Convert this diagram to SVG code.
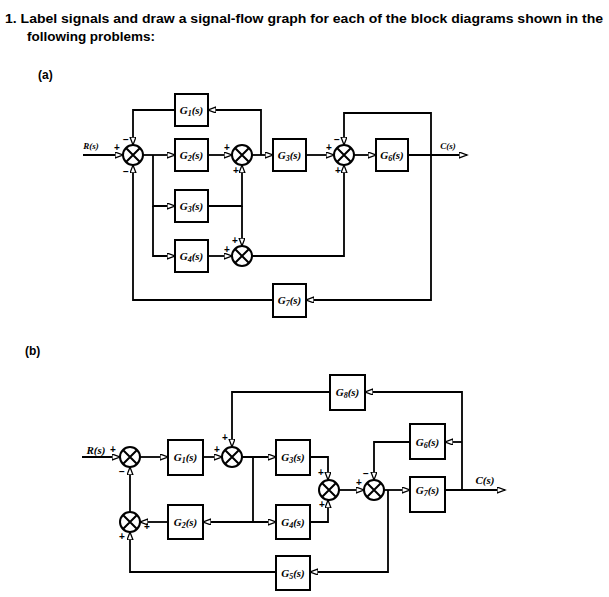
<svg xmlns="http://www.w3.org/2000/svg" width="609" height="597" viewBox="0 0 609 597">
<defs>
<marker id="ar" markerUnits="userSpaceOnUse" markerWidth="10" markerHeight="8" refX="8" refY="3" orient="auto"><path d="M0,0 L8,3 L0,6 z" fill="#fff" stroke="#000" stroke-width="1.3"/></marker>
<g id="sj"><circle r="10" fill="#fff" stroke="#000" stroke-width="2"/><path d="M-7,-7 L7,7 M7,-7 L-7,7" stroke="#000" stroke-width="2"/></g>
</defs>
<style>
.t{font-family:"Liberation Sans",Arial,sans-serif;font-weight:bold;font-size:12px}
.c line,.c path{stroke:#000;stroke-width:1.8;fill:none}
.a{marker-end:url(#ar)}
.b rect{fill:#fff;stroke:#000;stroke-width:2}
.l{font-family:"Liberation Serif",serif;font-style:italic;font-weight:bold;font-size:11px;text-anchor:middle}
.s{font-family:"Liberation Sans",sans-serif;font-size:10px;font-weight:bold}
</style>
<rect width="609" height="597" fill="#fff"/>
<text class="t" x="5" y="23" textLength="598" lengthAdjust="spacingAndGlyphs">1.  Label signals and draw a signal-flow graph for each of the block diagrams shown in the</text>
<text class="t" x="27" y="41" textLength="128" lengthAdjust="spacingAndGlyphs">following problems:</text>
<text class="t" x="38" y="79">(a)</text>
<text class="t" x="25" y="355">(b)</text>

<g class="c">
<!-- (a) -->
<line class="a" x1="83" y1="155" x2="123" y2="155"/>
<line class="a" x1="143" y1="155" x2="175" y2="155"/>
<line class="a" x1="208" y1="155" x2="232" y2="155"/>
<line class="a" x1="252" y1="155" x2="273" y2="155"/>
<line class="a" x1="306" y1="155" x2="334" y2="155"/>
<line class="a" x1="354" y1="155" x2="376" y2="155"/>
<line class="a" x1="408" y1="155" x2="467" y2="155"/>
<path class="a" d="M175,110 H133 V145"/>
<path class="a" d="M261,155 V110 H208"/>
<path class="a" d="M431,155 V113 H344 V145"/>
<path class="a" d="M153,155 V206 H175"/>
<path class="a" d="M153,206 V256 H175"/>
<path class="a" d="M208,206 H242 V165"/>
<path class="a" d="M242,206 V246"/>
<line class="a" x1="208" y1="256" x2="232" y2="256"/>
<path class="a" d="M252,256 H344 V165"/>
<path class="a" d="M431,155 V300 H306"/>
<path class="a" d="M273,300 H133 V165"/>
<!-- (b) -->
<line class="a" x1="82" y1="457" x2="120" y2="457"/>
<line class="a" x1="140" y1="457" x2="168" y2="457"/>
<line class="a" x1="203" y1="457" x2="222" y2="457"/>
<line class="a" x1="242" y1="457" x2="276" y2="457"/>
<path class="a" d="M310,457 H328 V480"/>
<path class="a" d="M253,457 V522 H276"/>
<path class="a" d="M310,522 H328 V500"/>
<line class="a" x1="339" y1="490" x2="364" y2="490"/>
<line class="a" x1="384" y1="490" x2="410" y2="490"/>
<line class="a" x1="445" y1="490" x2="505" y2="490"/>
<path class="a" d="M462,490 V392 H365"/>
<path class="a" d="M330,392 H232 V447"/>
<path class="a" d="M462,442 H445"/>
<path class="a" d="M410,442 H374 V480"/>
<path class="a" d="M388,490 V572 H310"/>
<path class="a" d="M276,572 H130 V532"/>
<path class="a" d="M253,522 H203"/>
<path class="a" d="M168,522 H140"/>
<path class="a" d="M130,512 V467"/>
</g>

<g id="a-sum1"><use href="#sj" x="133" y="155"/></g>
<g id="a-sum2"><use href="#sj" x="242" y="155"/></g>
<g id="a-sum3"><use href="#sj" x="344" y="155"/></g>
<g id="a-sum4"><use href="#sj" x="242" y="256"/></g>
<g class="b">
<g id="a-G1"><rect x="175" y="94" width="33" height="32"/><text class="l" x="191.5" y="114">G<tspan font-size="8" dy="2">1</tspan><tspan dy="-2">(s)</tspan></text></g>
<g id="a-G2"><rect x="175" y="139" width="33" height="32"/><text class="l" x="191.5" y="159">G<tspan font-size="8" dy="2">2</tspan><tspan dy="-2">(s)</tspan></text></g>
<g id="a-G3"><rect x="273" y="139" width="33" height="32"/><text class="l" x="289.5" y="159">G<tspan font-size="8" dy="2">3</tspan><tspan dy="-2">(s)</tspan></text></g>
<g id="a-G4"><rect x="175" y="190" width="33" height="32"/><text class="l" x="191.5" y="210">G<tspan font-size="8" dy="2">3</tspan><tspan dy="-2">(s)</tspan></text></g>
<g id="a-G5"><rect x="175" y="240" width="33" height="32"/><text class="l" x="191.5" y="260">G<tspan font-size="8" dy="2">4</tspan><tspan dy="-2">(s)</tspan></text></g>
<g id="a-G6"><rect x="376" y="139" width="32" height="32"/><text class="l" x="392" y="159">G<tspan font-size="8" dy="2">6</tspan><tspan dy="-2">(s)</tspan></text></g>
<g id="a-G7"><rect x="273" y="284" width="33" height="33"/><text class="l" x="289.5" y="304">G<tspan font-size="8" dy="2">7</tspan><tspan dy="-2">(s)</tspan></text></g>

<g id="b-G1"><rect x="168" y="440" width="35" height="35"/><text class="l" x="185.5" y="461">G<tspan font-size="8" dy="2">1</tspan><tspan dy="-2">(s)</tspan></text></g>
<g id="b-G2"><rect x="168" y="505" width="35" height="34"/><text class="l" x="185.5" y="526">G<tspan font-size="8" dy="2">2</tspan><tspan dy="-2">(s)</tspan></text></g>
<g id="b-G3"><rect x="276" y="440" width="34" height="35"/><text class="l" x="293" y="461">G<tspan font-size="8" dy="2">3</tspan><tspan dy="-2">(s)</tspan></text></g>
<g id="b-G4"><rect x="276" y="505" width="34" height="34"/><text class="l" x="293" y="526">G<tspan font-size="8" dy="2">4</tspan><tspan dy="-2">(s)</tspan></text></g>
<g id="b-G5"><rect x="276" y="556" width="34" height="34"/><text class="l" x="293" y="577">G<tspan font-size="8" dy="2">5</tspan><tspan dy="-2">(s)</tspan></text></g>
<g id="b-G6"><rect x="410" y="424" width="35" height="35"/><text class="l" x="427.5" y="446">G<tspan font-size="8" dy="2">6</tspan><tspan dy="-2">(s)</tspan></text></g>
<g id="b-G7"><rect x="410" y="477" width="35" height="35"/><text class="l" x="427.5" y="494">G<tspan font-size="8" dy="2">7</tspan><tspan dy="-2">(s)</tspan></text></g>
<g id="b-G8"><rect x="330" y="375" width="35" height="35"/><text class="l" x="347.5" y="396">G<tspan font-size="8" dy="2">8</tspan><tspan dy="-2">(s)</tspan></text></g>
</g>
<g id="b-sumA"><use href="#sj" x="130" y="457"/></g>
<g id="b-sumB"><use href="#sj" x="232" y="457"/></g>
<g id="b-sumC"><use href="#sj" x="329" y="490"/></g>
<g id="b-sumD"><use href="#sj" x="374" y="490"/></g>
<g id="b-sumE"><use href="#sj" x="130" y="522"/></g>

<g class="l">
<text x="91" y="149" font-size="9">R(s)</text>
<text x="448" y="149" font-size="9">C(s)</text>
<text x="96" y="454">R(s)</text>
<text x="485" y="484">C(s)</text>
</g>
<g class="s">
<text x="114" y="151">+</text><text x="123" y="143">−</text><text x="123" y="175">−</text>
<text x="224" y="151">+</text><text x="233" y="174">+</text>
<text x="326" y="151">+</text><text x="334" y="143">−</text><text x="335" y="174">+</text>
<text x="232" y="244">+</text><text x="224" y="253">+</text>
<text x="110" y="453">+</text><text x="119" y="475">−</text>
<text x="214" y="453">+</text><text x="222" y="441">+</text>
<text x="318" y="476">+</text><text x="319" y="508">+</text>
<text x="356" y="486">+</text><text x="363" y="477">−</text>
<text x="144" y="530">+</text><text x="119" y="540">+</text>
</g>
</svg>
